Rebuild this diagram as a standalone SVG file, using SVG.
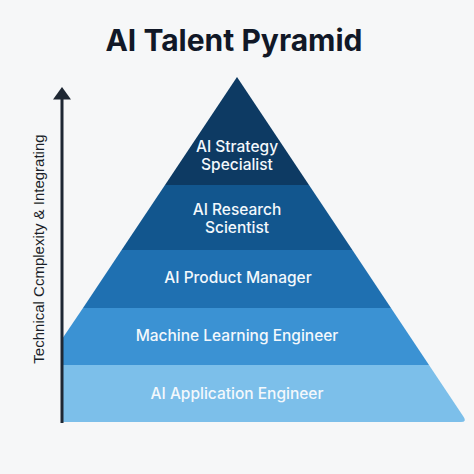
<svg xmlns="http://www.w3.org/2000/svg" width="474" height="474" viewBox="0 0 474 474">
<style>
.title{font-family:Inter,"Liberation Sans",sans-serif;font-weight:700;font-size:30px;fill:#111827}
.lbl{font-family:Inter,"Liberation Sans",sans-serif;font-weight:500;font-size:15.5px;fill:#f3f8fc;text-anchor:middle}
.axl{font-family:"Liberation Sans",Arial,sans-serif;font-size:15px;fill:#1a1f29;text-anchor:middle}
</style>
<rect width="474" height="474" fill="#f6f7f8"/>
<text class="title" x="234" y="51" text-anchor="middle">AI Talent Pyramid</text>
<g id="level5">
<path d="M62,365 L429,365 L463.7,417 Q467,422 461,422 L62,422 Z" fill="#7cbfea"/>
<text class="lbl" x="237" y="399">AI Application Engineer</text>
</g>
<g id="level4">
<polygon points="83,308 391,308 429,365 62,365 62,339" fill="#3b92d3"/>
<text class="lbl" x="237" y="341">Machine Learning Engineer</text>
</g>
<g id="level3">
<polygon points="121.6,250 352.4,250 391,308 83,308" fill="#1f70b1"/>
<text class="lbl" x="238" y="283">AI Product Manager</text>
</g>
<g id="level2">
<polygon points="165,185 309,185 352.4,250 121.6,250" fill="#12568e"/>
<text class="lbl" x="237" y="215">AI Research</text>
<text class="lbl" x="237" y="233">Scientist</text>
</g>
<g id="level1">
<polygon points="237,77 309,185 165,185" fill="#0d3a63"/>
<text class="lbl" x="237" y="152">AI Strategy</text>
<text class="lbl" x="237" y="170">Specialist</text>
</g>
<g id="connectors">
<line x1="62" y1="423" x2="62" y2="98" stroke="#1e2733" stroke-width="3"/>
<polygon points="62,87 53,99.5 71,99.5" fill="#1e2733"/>
</g>
<g id="axis-label">
<text class="axl" transform="translate(44,249) rotate(-90)">Technical Ccmplexity &amp; Integrating</text>
</g>
</svg>
